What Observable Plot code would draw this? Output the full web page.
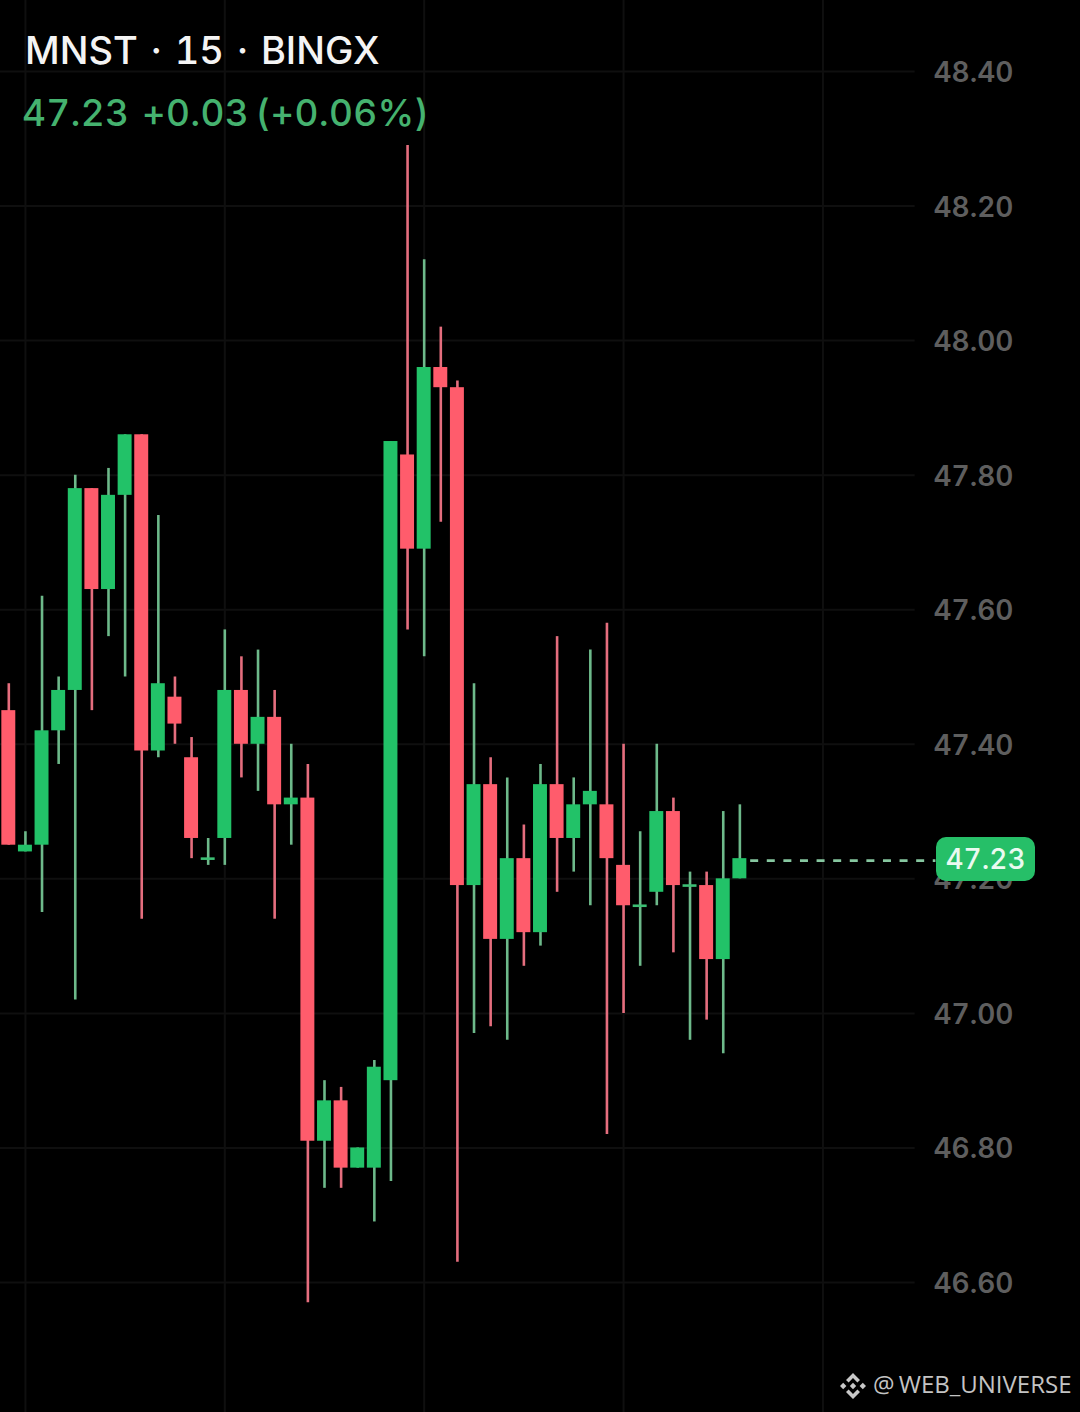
<!DOCTYPE html>
<html>
<head>
<meta charset="utf-8">
<script src="https://cdn.jsdelivr.net/npm/d3@7"></script>
<script src="https://cdn.jsdelivr.net/npm/@observablehq/plot@0.6"></script>
<style>
  html, body { margin: 0; padding: 0; background: #000; }
  #wrap { position: relative; width: 1080px; height: 1412px; overflow: hidden; background: #000; font-family: Inter, sans-serif; }
  #wrap svg.plot { display: block; }
  .ov { position: absolute; white-space: pre; line-height: 1; font-variant-numeric: tabular-nums; }
  #title { left: 25px; top: 31px; font-size: 38px; font-weight: 500; color: #f4f4f4; word-spacing: 2.5px; }
  #quote { left: 22px; top: 94px; font-size: 37px; font-weight: 500; color: #45b26f; letter-spacing: 0.3px; word-spacing: -4px; }
  #badge { left: 936px; width: 99px; height: 44px; line-height: 44px; text-align: center; border-radius: 10px; background: #26bf68; color: #eafaf0; font-size: 28px; font-weight: 500; }
  #mark { left: 873px; top: 1372px; font-family: "Open Sans", sans-serif; font-size: 24px; color: #c4c4c4; word-spacing: -2px; }
</style>
</head>
<body>
<div id="wrap"></div>
<script>
const titleText = "MNST \u00B7 15 \u00B7 BINGX";
const quoteText = "47.23  +0.03 (+0.06%)";
const watermark = "@ WEB_UNIVERSE";
const lastPrice = 47.23;
const priceTicks = [46.6, 46.8, 47.0, 47.2, 47.4, 47.6, 47.8, 48.0, 48.2, 48.4];
const timeGrid = [1, 13, 25, 37, 49];

const highs = [47.49,47.27,47.62,47.50,47.80,47.78,47.81,47.86,47.86,47.74,47.50,47.41,47.26,47.57,47.53,47.54,47.48,47.40,47.37,46.90,46.89,46.80,46.93,47.85,48.29,48.12,48.02,47.94,47.49,47.38,47.35,47.28,47.37,47.56,47.35,47.54,47.58,47.40,47.27,47.40,47.32,47.21,47.21,47.30,47.31];
const lows = [47.25,47.24,47.15,47.37,47.02,47.45,47.56,47.50,47.14,47.38,47.40,47.23,47.22,47.22,47.35,47.33,47.14,47.25,46.57,46.74,46.74,46.77,46.69,46.75,47.57,47.53,47.73,46.63,46.97,46.98,46.96,47.07,47.10,47.18,47.21,47.16,46.82,47.00,47.07,47.16,47.09,46.96,46.99,46.94,47.20];
const opens = [47.45,47.24,47.25,47.42,47.48,47.78,47.63,47.77,47.86,47.39,47.47,47.38,47.23,47.26,47.48,47.40,47.44,47.31,47.32,46.81,46.87,46.77,46.77,46.90,47.83,47.69,47.96,47.93,47.19,47.34,47.11,47.23,47.12,47.34,47.26,47.31,47.31,47.22,47.16,47.18,47.30,47.19,47.19,47.08,47.20];
const closes = [47.25,47.25,47.42,47.48,47.78,47.63,47.77,47.86,47.39,47.49,47.43,47.26,47.23,47.48,47.40,47.44,47.31,47.32,46.81,46.87,46.77,46.80,46.92,47.85,47.69,47.96,47.93,47.19,47.34,47.11,47.23,47.12,47.34,47.26,47.31,47.33,47.23,47.16,47.16,47.30,47.19,47.19,47.08,47.20,47.23];

const candles = opens.map((open, i) => ({i, open, close: closes[i], high: highs[i], low: lows[i], up: closes[i] >= open}));
const up = candles.filter(d => d.up);
const down = candles.filter(d => !d.up);
const dojis = candles.filter(d => d.open === d.close);

const GREEN = "#22c268", RED = "#ff5c6c", WICK_G = "#6db98a", WICK_R = "#e56e7e", GRID = "#0f0f0f";
const halfBody = 0.42;
const gridEnd = 54.55;

const chart = Plot.plot({
  width: 1080, height: 1412,
  marginTop: 0, marginBottom: 0, marginLeft: 0, marginRight: 147,
  style: {background: "#000", fontFamily: "Inter, sans-serif"},
  x: {domain: [-0.5, 55.654], axis: null},
  y: {domain: [46.4068, 48.5055]},
  marks: [
    Plot.ruleX(timeGrid, {stroke: GRID, strokeWidth: 2}),
    Plot.ruleY(priceTicks, {x1: -0.5, x2: gridEnd, stroke: GRID, strokeWidth: 2}),
    Plot.axisY({anchor: "right", ticks: priceTicks, tickSize: 0, tickPadding: 0, label: null, dy: 1.5,
      tickFormat: d => d.toFixed(2), fontSize: 28, fontWeight: 600, fill: "#5e5e5e", letterSpacing: 0.4}),
    Plot.ruleY([lastPrice], {x1: 44.65, x2: 55.8, dy: 2, stroke: "#86c7a0", strokeWidth: 2.6, strokeDasharray: "8 8.6"}),
    Plot.ruleX(up, {x: "i", y1: "low", y2: "high", stroke: WICK_G, strokeWidth: 2.6}),
    Plot.ruleX(down, {x: "i", y1: "low", y2: "high", stroke: WICK_R, strokeWidth: 2.6}),
    Plot.rect(up, {x1: d => d.i - halfBody, x2: d => d.i + halfBody, y1: "open", y2: "close", fill: GREEN}),
    Plot.rect(down, {x1: d => d.i - halfBody, x2: d => d.i + halfBody, y1: "open", y2: "close", fill: RED}),
    Plot.ruleY(dojis, {y: "close", x1: d => d.i - halfBody, x2: d => d.i + halfBody, stroke: "#3cbf74", strokeWidth: 2.6})
  ]
});

const wrap = document.getElementById("wrap");
wrap.appendChild(chart);

function overlay(id, text) {
  const el = document.createElement("div");
  el.id = id; el.className = "ov"; el.textContent = text;
  wrap.appendChild(el);
  return el;
}
overlay("title", titleText);
overlay("quote", quoteText);
overlay("badge", lastPrice.toFixed(2)).style.top = (chart.scale("y").apply(lastPrice) - 21.5) + "px";
overlay("mark", watermark);

// exchange logo of the watermark
const ns = "http://www.w3.org/2000/svg";
const logo = document.createElementNS(ns, "svg");
logo.setAttribute("width", 28); logo.setAttribute("height", 28);
logo.setAttribute("viewBox", "0 0 28 28");
logo.style.cssText = "position:absolute;left:839px;top:1372px";
logo.innerHTML = '<g fill="#c8c8c8">' +
  '<path d="M14 1 L21 8 L18.4 10.4 L14 6 L9.6 10.4 L7 8 Z"/>' +
  '<path d="M14 27 L21 20 L18.4 17.6 L14 22 L9.6 17.6 L7 20 Z"/>' +
  '<path d="M14 10.8 L17.2 14 L14 17.2 L10.8 14 Z"/>' +
  '<path d="M4.2 10.8 L7.4 14 L4.2 17.2 L1 14 Z"/>' +
  '<path d="M23.8 10.8 L27 14 L23.8 17.2 L20.6 14 Z"/></g>';
wrap.appendChild(logo);
</script>
</body>
</html>
